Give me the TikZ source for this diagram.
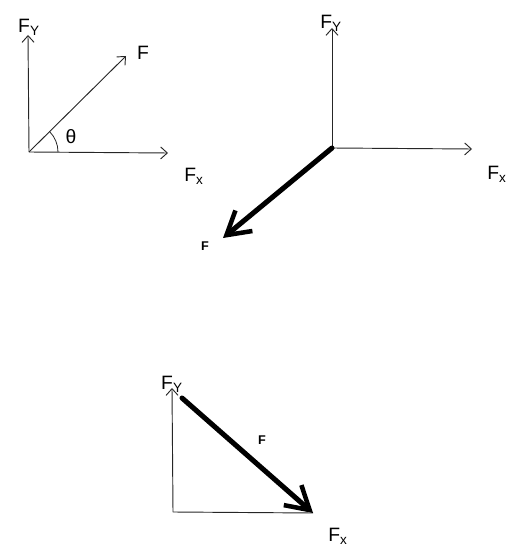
\documentclass[tikz,border=0pt]{standalone}
\usepackage{fontspec}
\setmainfont{Liberation Sans}
\usetikzlibrary{arrows.meta}

\begin{document}
\begin{tikzpicture}[x=0.75pt,y=0.75pt,
    axis/.style={draw=black!85,line width=0.7pt,-{Straight Barb[length=5pt,width=9pt]}},
    force/.style={line width=3.8pt,line cap=round,-{Straight Barb[length=17pt,width=20pt,line width=3.4pt]}},
    lbl/.style={font=\fontsize{14.5}{17}\selectfont,inner sep=0pt},
    flbl/.style={font=\fontsize{9.5}{11}\selectfont\bfseries,inner sep=0pt}]
    \useasboundingbox (0,0) rectangle (532,554);

    % first sketch: F at angle theta
    \coordinate (O1) at (29,402);
    \coordinate (Y1) at (28,519);
    \coordinate (X1) at (168,401);
    \coordinate (F1) at (126,498);
    \draw[axis] (O1) -- (Y1);
    \draw[axis] (O1) -- (X1);
    \draw[axis] (O1) -- (F1);
    \draw[draw=black!85,line width=0.6pt] ([shift={(29,0)}]O1) arc[start angle=0,end angle=45,radius=29];
    \node[lbl] (FY1) at (29,527) {F\textsubscript{Y}};
    \node[lbl] (FF1) at (143,501) {F};
    \node[lbl] (FX1) at (194,378) {F\textsubscript{x}};
    \node[lbl] (TH1) at (71,417) {θ};

    % second sketch: F pointing down left
    \coordinate (O2) at (332,406);
    \coordinate (Y2) at (332,526);
    \coordinate (X2) at (472,405);
    \coordinate (F2) at (223,316);
    \draw[axis] (O2) -- (Y2);
    \draw[axis] (O2) -- (X2);
    \draw[force] (O2) -- (F2);
    \node[lbl] (FY2) at (331,531) {F\textsubscript{Y}};
    \node[lbl] (FX2) at (497,380) {F\textsubscript{x}};
    \node[flbl] (FF2) at (205,308) {F};

    % third sketch: F between the two axes
    \coordinate (O3) at (173,42);
    \coordinate (Y3) at (172,166);
    \coordinate (S3) at (182,156);
    \coordinate (F3) at (313,41);
    \draw[axis] (O3) -- (Y3);
    \draw[draw=black!85,line width=0.7pt] (O3) -- (F3);
    \draw[force] (S3) -- (F3);
    \node[lbl] (FY3) at (172,170) {F\textsubscript{Y}};
    \node[lbl] (FX3) at (338,18) {F\textsubscript{x}};
    \node[flbl] (FF3) at (262,114) {F};

\end{tikzpicture}
\end{document}
